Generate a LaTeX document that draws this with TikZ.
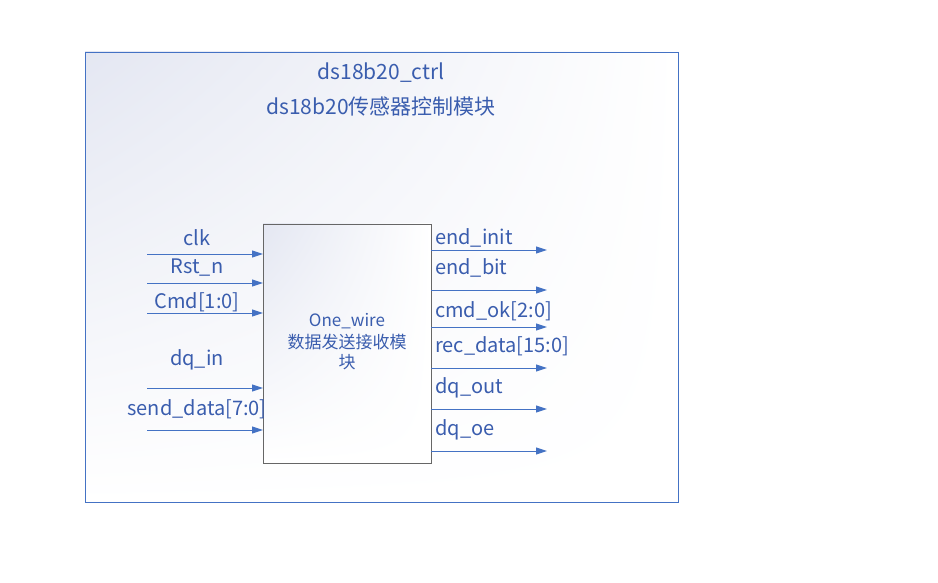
\documentclass[tikz,border=0pt]{standalone}
\usepackage{fontspec}
\setmainfont{Noto Sans CJK SC}
\usetikzlibrary{arrows.meta,shadings}
\definecolor{bl}{HTML}{4472C4}
\definecolor{tx}{HTML}{3A5DAE}
\definecolor{gr}{HTML}{E4E7F2}
\begin{document}
\begin{tikzpicture}[x=1pt,y=-1pt,
  lab/.style={text=tx,font=\fontsize{20}{24}\selectfont,inner sep=0pt},
  sig/.style={draw=bl,line width=1pt,-{Triangle[length=11pt,width=7pt]}}]
\useasboundingbox (0,0) rectangle (938,583);
\fill[white] (0,0) rectangle (938,583);
\shade[upper left=gr,lower right=white,upper right=white,lower left=white] (85,52) rectangle (678,502);
\node[draw=bl,line width=0.8pt,minimum width=593pt,minimum height=450pt,anchor=north west,inner sep=0pt] (outer) at (85,52) {};
\node[lab,font=\fontsize{21}{25}\selectfont] (t1) at (381,73) {ds18b20\_ctrl};
\node[lab,font=\fontsize{21}{25}\selectfont] (t2) at (381,107) {ds18b20传感器控制模块};
\shade[upper left=gr,lower right=white,upper right=white,lower left=white] (263,224) rectangle (431,463);
\node[draw=black!60,line width=0.6pt,minimum width=168pt,minimum height=239pt,anchor=north west,inner sep=0pt] (core) at (263,224) {};
\node[lab,font=\fontsize{17}{20}\selectfont,align=center] (ct) at (347,342) {One\_wire\\[2pt]数据发送接收模\\块};
\foreach \n/\y/\t/\ly in {a/254/clk/238,b/283/Rst\_n/268,c/313/Cmd[1:0]/302,d/388/dq\_in/360,e/430/send\_data[7:0]/409}{
  \coordinate (i\n) at (147,\y);
  \coordinate (j\n) at (263,\y);
  \draw[sig] (i\n) -- (j\n);
  \node[lab] (l\n) at (197,\ly) {\t};
}
\foreach \n/\y/\t/\ly in {a/250/end\_init/238,b/290/end\_bit/268,c/327/cmd\_ok[2:0]/311,d/368/rec\_data[15:0]/346,e/409/dq\_out/388,f/451/dq\_oe/430}{
  \coordinate (o\n) at (431,\y);
  \coordinate (p\n) at (547,\y);
  \draw[sig] (o\n) -- (p\n);
  \node[lab,anchor=west] (m\n) at (435,\ly) {\t};
}
\end{tikzpicture}
\end{document}
